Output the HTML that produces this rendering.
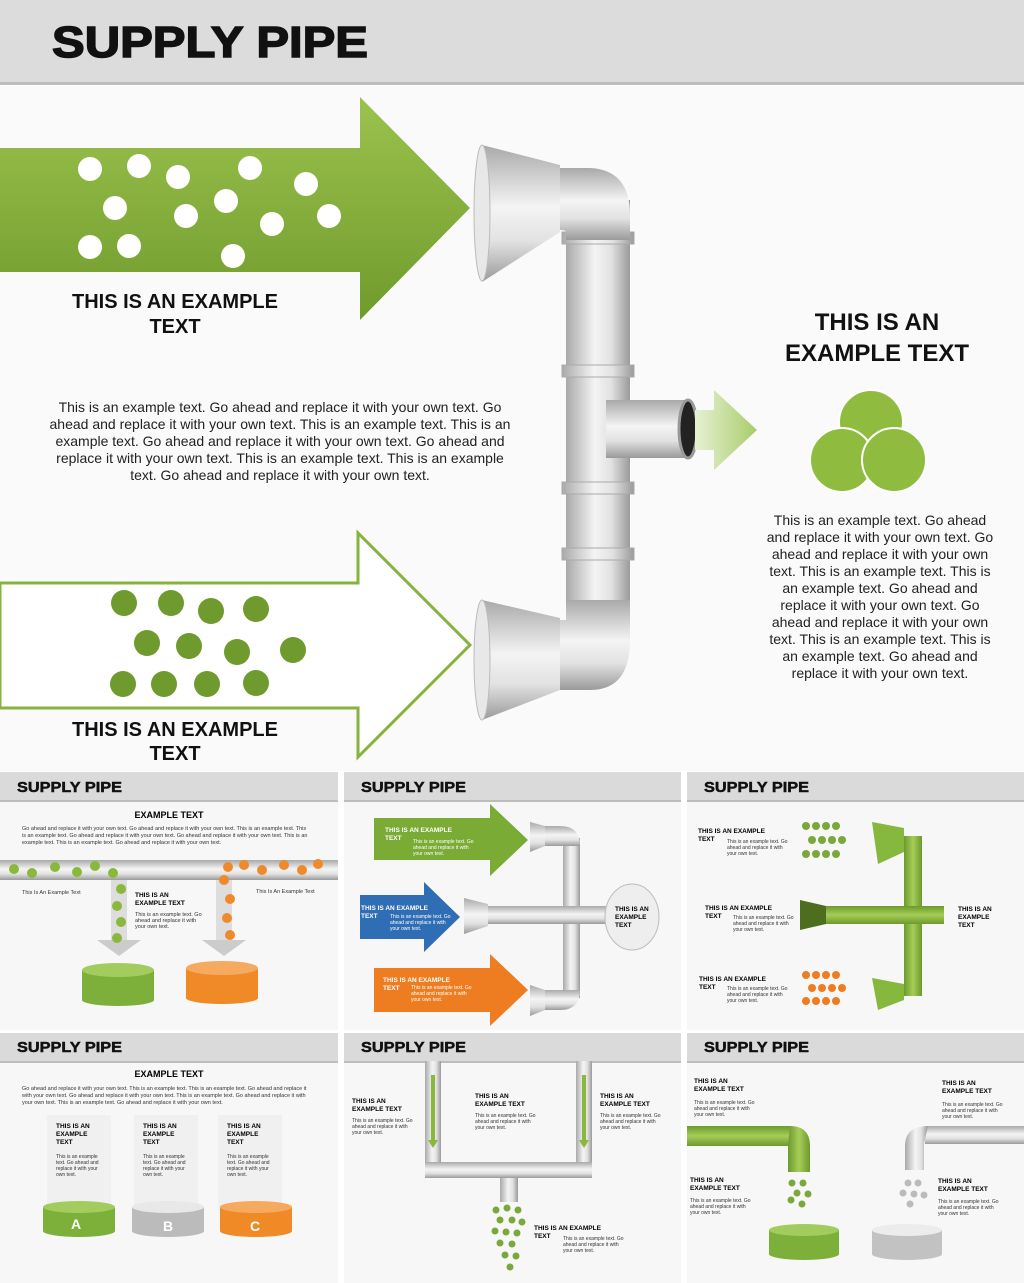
<!DOCTYPE html>
<html><head><meta charset="utf-8"><style>
html,body{margin:0;padding:0;background:#fff}
svg{display:block}
text{font-family:"Liberation Sans",Arial,sans-serif}
.b{font-weight:bold}
</style></head><body>
<svg width="1024" height="1283" viewBox="0 0 1024 1283" xmlns="http://www.w3.org/2000/svg">
<defs>
<linearGradient id="pv" x1="0" x2="1" y1="0" y2="0"><stop offset="0" stop-color="#a9a9a9"/><stop offset=".45" stop-color="#f4f4f4"/><stop offset=".7" stop-color="#e2e2e2"/><stop offset="1" stop-color="#9a9a9a"/></linearGradient>
<linearGradient id="ph" x1="0" x2="0" y1="0" y2="1"><stop offset="0" stop-color="#a9a9a9"/><stop offset=".45" stop-color="#f4f4f4"/><stop offset=".7" stop-color="#e2e2e2"/><stop offset="1" stop-color="#9a9a9a"/></linearGradient>
<linearGradient id="ga" x1="0" x2="0" y1="0" y2="1"><stop offset="0" stop-color="#9cc24e"/><stop offset="1" stop-color="#6f9b2c"/></linearGradient>
<linearGradient id="lg" x1="0" x2="1"><stop offset="0" stop-color="#e6f1d3"/><stop offset="1" stop-color="#a9cc6a"/></linearGradient>
<linearGradient id="gp" x1="0" x2="1"><stop offset="0" stop-color="#6c9a2c"/><stop offset=".5" stop-color="#a6cd58"/><stop offset="1" stop-color="#6c9a2c"/></linearGradient>
<linearGradient id="gph" x1="0" x2="0" y1="0" y2="1"><stop offset="0" stop-color="#6c9a2c"/><stop offset=".5" stop-color="#a6cd58"/><stop offset="1" stop-color="#6c9a2c"/></linearGradient>
</defs>
<!-- header -->
<rect x="0" y="0" width="1024" height="85" fill="#dcdcdc"/>
<rect x="0" y="82" width="1024" height="3" fill="#bdbdbd"/>
<text x="52" y="57" class="b" font-size="44" fill="#111" textLength="316" lengthAdjust="spacingAndGlyphs" stroke="#111" stroke-width="1.5">SUPPLY PIPE</text>
<rect x="0" y="86" width="1024" height="685" fill="#fafafa"/>
<!-- top green arrow -->
<polygon points="0,148 360,148 360,97 470,208 360,320 360,272 0,272" fill="url(#ga)"/>
<g fill="#fff">
<circle cx="90" cy="169" r="12"/><circle cx="139" cy="166" r="12"/><circle cx="178" cy="177" r="12"/><circle cx="250" cy="168" r="12"/><circle cx="306" cy="184" r="12"/>
<circle cx="115" cy="208" r="12"/><circle cx="186" cy="216" r="12"/><circle cx="226" cy="201" r="12"/><circle cx="272" cy="224" r="12"/><circle cx="329" cy="216" r="12"/>
<circle cx="90" cy="247" r="12"/><circle cx="129" cy="246" r="12"/><circle cx="233" cy="256" r="12"/></g>
<text x="175" y="308" text-anchor="middle" class="b" font-size="20" fill="#111">THIS IS AN EXAMPLE</text>
<text x="175" y="333" text-anchor="middle" class="b" font-size="20" fill="#111">TEXT</text>
<g font-size="14" fill="#222" text-anchor="middle">
<text x="280" y="412">This is an example text. Go ahead and replace it with your own text. Go</text>
<text x="280" y="429">ahead and replace it with your own text. This is an example text. This is an</text>
<text x="280" y="446">example text. Go ahead and replace it with your own text. Go ahead and</text>
<text x="280" y="463">replace it with your own text. This is an example text. This is an example</text>
<text x="280" y="480">text. Go ahead and replace it with your own text.</text></g>
<!-- bottom outline arrow -->
<polygon points="0,583 358,583 358,533 470,645 358,757 358,708 0,708" fill="#fff" stroke="#86b33e" stroke-width="3"/>
<g fill="#6f9a2e">
<circle cx="124" cy="603" r="13"/><circle cx="171" cy="603" r="13"/><circle cx="211" cy="611" r="13"/><circle cx="256" cy="609" r="13"/>
<circle cx="147" cy="643" r="13"/><circle cx="189" cy="646" r="13"/><circle cx="237" cy="652" r="13"/><circle cx="293" cy="650" r="13"/>
<circle cx="123" cy="684" r="13"/><circle cx="164" cy="684" r="13"/><circle cx="207" cy="684" r="13"/><circle cx="256" cy="683" r="13"/></g>
<text x="175" y="736" text-anchor="middle" class="b" font-size="20" fill="#111">THIS IS AN EXAMPLE</text>
<text x="175" y="760" text-anchor="middle" class="b" font-size="20" fill="#111">TEXT</text>
<!-- pipe -->
<rect x="566" y="200" width="64" height="440" fill="url(#pv)"/>
<g fill="url(#pv)" stroke="#aaa">
<rect x="562" y="232" width="72" height="12"/><rect x="562" y="365" width="72" height="12"/><rect x="562" y="482" width="72" height="12"/><rect x="562" y="548" width="72" height="12"/></g>
<path d="M560,168 L590,168 Q630,170 630,215 L630,240 L566,240 L566,232 Q566,230 560,230 Z" fill="url(#ph)"/>
<path d="M560,620 L566,620 L566,600 L630,600 L630,640 Q630,690 590,690 L560,690 Z" fill="url(#ph)"/>
<polygon points="482,145 560,165 560,232 482,282" fill="url(#ph)"/>
<ellipse cx="482" cy="213" rx="8" ry="68" fill="#e8e8e8" stroke="#bbb"/>
<polygon points="482,600 560,618 560,690 482,720" fill="url(#ph)"/>
<ellipse cx="482" cy="660" rx="8" ry="60" fill="#e8e8e8" stroke="#bbb"/>
<rect x="606" y="400" width="84" height="58" fill="url(#ph)"/>
<ellipse cx="688" cy="429" rx="9" ry="29" fill="#222" stroke="#999" stroke-width="3"/>
<polygon points="695,410 714,410 714,390 757,430 714,470 714,450 695,450" fill="url(#lg)"/>
<!-- right side -->
<text x="877" y="330" text-anchor="middle" class="b" font-size="24" fill="#111">THIS IS AN</text>
<text x="877" y="361" text-anchor="middle" class="b" font-size="24" fill="#111">EXAMPLE TEXT</text>
<g fill="#8fbc3f" stroke="#fff" stroke-width="2">
<circle cx="871" cy="422" r="32"/><circle cx="842" cy="460" r="32"/><circle cx="894" cy="460" r="32"/></g>
<g font-size="14" fill="#222" text-anchor="middle">
<text x="880" y="525">This is an example text. Go ahead</text>
<text x="880" y="542">and replace it with your own text. Go</text>
<text x="880" y="559">ahead and replace it with your own</text>
<text x="880" y="576">text. This is an example text. This is</text>
<text x="880" y="593">an example text. Go ahead and</text>
<text x="880" y="610">replace it with your own text. Go</text>
<text x="880" y="627">ahead and replace it with your own</text>
<text x="880" y="644">text. This is an example text. This is</text>
<text x="880" y="661">an example text. Go ahead and</text>
<text x="880" y="678">replace it with your own text.</text></g>

<!-- thumbnails -->
<g>
<rect x="0" y="772" width="338" height="258" fill="#f7f7f7"/><rect x="344" y="772" width="337" height="258" fill="#f7f7f7"/><rect x="687" y="772" width="337" height="258" fill="#f7f7f7"/>
<rect x="0" y="1033" width="338" height="250" fill="#f7f7f7"/><rect x="344" y="1033" width="337" height="250" fill="#f7f7f7"/><rect x="687" y="1033" width="337" height="250" fill="#f7f7f7"/>
<g fill="#dadada"><rect x="0" y="772" width="338" height="28"/><rect x="344" y="772" width="337" height="28"/><rect x="687" y="772" width="337" height="28"/>
<rect x="0" y="1033" width="338" height="28"/><rect x="344" y="1033" width="337" height="28"/><rect x="687" y="1033" width="337" height="28"/></g>
<g fill="#bdbdbd"><rect x="0" y="800" width="338" height="2"/><rect x="344" y="800" width="337" height="2"/><rect x="687" y="800" width="337" height="2"/>
<rect x="0" y="1061" width="338" height="2"/><rect x="344" y="1061" width="337" height="2"/><rect x="687" y="1061" width="337" height="2"/></g>
<g class="b" font-size="15" fill="#111" stroke="#111" stroke-width=".5">
<text x="17" y="792" textLength="105" lengthAdjust="spacingAndGlyphs">SUPPLY PIPE</text><text x="361" y="792" textLength="105" lengthAdjust="spacingAndGlyphs">SUPPLY PIPE</text><text x="704" y="792" textLength="105" lengthAdjust="spacingAndGlyphs">SUPPLY PIPE</text>
<text x="17" y="1052" textLength="105" lengthAdjust="spacingAndGlyphs">SUPPLY PIPE</text><text x="361" y="1052" textLength="105" lengthAdjust="spacingAndGlyphs">SUPPLY PIPE</text><text x="704" y="1052" textLength="105" lengthAdjust="spacingAndGlyphs">SUPPLY PIPE</text></g>
</g>
<!-- thumb 1 -->
<text x="169" y="818" text-anchor="middle" class="b" font-size="9">EXAMPLE TEXT</text>
<g font-size="5.5" fill="#333"><text x="22" y="830">Go ahead and replace it with your own text. Go ahead and replace it with your own text. This is an example text. This</text><text x="22" y="837">is an example text. Go ahead and replace it with your own text. Go ahead and replace it with your own text. This is an</text><text x="22" y="844">example text. This is an example text. Go ahead and replace it with your own text.</text></g>
<rect x="0" y="860" width="338" height="20" fill="url(#ph)"/>
<rect x="111" y="880" width="16" height="60" fill="#ddd"/><polygon points="97,940 141,940 119,956" fill="#ccc"/>
<rect x="216" y="880" width="16" height="60" fill="#ddd"/><polygon points="202,940 246,940 224,956" fill="#ccc"/>
<g fill="#8ab83c"><circle cx="14" cy="869" r="5"/><circle cx="32" cy="873" r="5"/><circle cx="55" cy="867" r="5"/><circle cx="77" cy="872" r="5"/><circle cx="95" cy="866" r="5"/><circle cx="113" cy="873" r="5"/><circle cx="121" cy="889" r="5"/><circle cx="117" cy="906" r="5"/><circle cx="121" cy="922" r="5"/><circle cx="117" cy="938" r="5"/></g>
<g fill="#ee8a2c"><circle cx="228" cy="867" r="5"/><circle cx="244" cy="865" r="5"/><circle cx="262" cy="870" r="5"/><circle cx="284" cy="865" r="5"/><circle cx="302" cy="870" r="5"/><circle cx="318" cy="864" r="5"/><circle cx="224" cy="880" r="5"/><circle cx="230" cy="899" r="5"/><circle cx="227" cy="918" r="5"/><circle cx="230" cy="935" r="5"/></g>
<g font-size="5.5" fill="#333"><text x="22" y="894">This Is An Example Text</text><text x="256" y="893">This Is An Example Text</text><text x="135" y="916">This is an example text. Go</text><text x="135" y="922">ahead and replace it with</text><text x="135" y="928">your own text.</text></g>
<g class="b" font-size="6.5"><text x="135" y="897">THIS IS AN</text><text x="135" y="905">EXAMPLE TEXT</text></g>
<rect x="82" y="970" width="72" height="30" fill="#7cb03a"/><ellipse cx="118" cy="1000" rx="36" ry="6" fill="#7cb03a"/><ellipse cx="118" cy="970" rx="36" ry="7" fill="#a3cc5e"/>
<rect x="186" y="968" width="72" height="30" fill="#ef8a26"/><ellipse cx="222" cy="998" rx="36" ry="6" fill="#ef8a26"/><ellipse cx="222" cy="968" rx="36" ry="7" fill="#f6aa60"/>
<!-- thumb 2 -->
<polygon points="374,818 490,818 490,804 528,840 490,876 490,860 374,860" fill="#7aab35"/>
<polygon points="360,895 424,895 424,882 460,917 424,952 424,939 360,939" fill="#2f6db5"/>
<polygon points="374,968 490,968 490,954 528,990 490,1026 490,1012 374,1012" fill="#ee7d22"/>
<g class="b" font-size="6.5" fill="#fff"><text x="385" y="832">THIS IS AN EXAMPLE</text><text x="385" y="840">TEXT</text><text x="361" y="910">THIS IS AN EXAMPLE</text><text x="361" y="918">TEXT</text><text x="383" y="982">THIS IS AN EXAMPLE</text><text x="383" y="990">TEXT</text></g>
<g font-size="5" fill="#fff"><text x="413" y="843">This is an example text. Go</text><text x="413" y="849">ahead and replace it with</text><text x="413" y="855">your own text.</text><text x="390" y="918">This is an example text. Go</text><text x="390" y="924">ahead and replace it with</text><text x="390" y="930">your own text.</text><text x="411" y="989">This is an example text. Go</text><text x="411" y="995">ahead and replace it with</text><text x="411" y="1001">your own text.</text></g>
<rect x="563" y="838" width="17" height="160" fill="url(#pv)"/><path d="M540,826 L560,826 Q580,826 580,846 L563,846 L545,846Z" fill="url(#ph)"/><path d="M545,990 L563,990 L580,990 Q580,1010 560,1010 L540,1010Z" fill="url(#ph)"/>
<polygon points="530,822 545,826 545,846 530,852" fill="url(#ph)"/><polygon points="530,985 545,990 545,1010 530,1016" fill="url(#ph)"/>
<rect x="488" y="906" width="118" height="18" fill="url(#ph)"/><polygon points="464,898 488,904 488,926 464,934" fill="url(#ph)"/>
<ellipse cx="632" cy="917" rx="27" ry="33" fill="#eee" stroke="#bbb"/>
<g class="b" font-size="6.5"><text x="615" y="911">THIS IS AN</text><text x="615" y="919">EXAMPLE</text><text x="615" y="927">TEXT</text></g>
<!-- thumb 3 -->
<rect x="904" y="836" width="18" height="160" fill="url(#gp)"/><rect x="802" y="906" width="142" height="18" fill="url(#gph)"/>
<polygon points="872,822 904,828 904,852 878,864" fill="#86b83e"/><polygon points="872,978 904,984 904,1000 878,1010" fill="#86b83e"/>
<polygon points="800,900 826,906 826,924 800,930" fill="#4d6e1f"/>
<g fill="#7aa83a"><circle cx="806" cy="826" r="4"/><circle cx="816" cy="826" r="4"/><circle cx="826" cy="826" r="4"/><circle cx="836" cy="826" r="4"/><circle cx="812" cy="840" r="4"/><circle cx="822" cy="840" r="4"/><circle cx="832" cy="840" r="4"/><circle cx="842" cy="840" r="4"/><circle cx="806" cy="854" r="4"/><circle cx="816" cy="854" r="4"/><circle cx="826" cy="854" r="4"/><circle cx="836" cy="854" r="4"/></g>
<g fill="#ee7d22"><circle cx="806" cy="975" r="4"/><circle cx="816" cy="975" r="4"/><circle cx="826" cy="975" r="4"/><circle cx="836" cy="975" r="4"/><circle cx="812" cy="988" r="4"/><circle cx="822" cy="988" r="4"/><circle cx="832" cy="988" r="4"/><circle cx="842" cy="988" r="4"/><circle cx="806" cy="1001" r="4"/><circle cx="816" cy="1001" r="4"/><circle cx="826" cy="1001" r="4"/><circle cx="836" cy="1001" r="4"/></g>
<g class="b" font-size="6.5"><text x="698" y="833">THIS IS AN EXAMPLE</text><text x="698" y="841">TEXT</text><text x="705" y="910">THIS IS AN EXAMPLE</text><text x="705" y="918">TEXT</text><text x="699" y="981">THIS IS AN EXAMPLE</text><text x="699" y="989">TEXT</text><text x="958" y="911">THIS IS AN</text><text x="958" y="919">EXAMPLE</text><text x="958" y="927">TEXT</text></g>
<g font-size="5" fill="#333"><text x="727" y="843">This is an example text. Go</text><text x="727" y="849">ahead and replace it with</text><text x="727" y="855">your own text.</text><text x="733" y="919">This is an example text. Go</text><text x="733" y="925">ahead and replace it with</text><text x="733" y="931">your own text.</text><text x="727" y="990">This is an example text. Go</text><text x="727" y="996">ahead and replace it with</text><text x="727" y="1002">your own text.</text></g>
<!-- thumb 4 -->
<text x="169" y="1077" text-anchor="middle" class="b" font-size="9">EXAMPLE TEXT</text>
<g font-size="5.5" fill="#333"><text x="22" y="1090">Go ahead and replace it with your own text. This is an example text. This is an example text. Go ahead and replace it</text><text x="22" y="1097">with your own text. Go ahead and replace it with your own text. This is an example text. Go ahead and replace it with</text><text x="22" y="1104">your own text. This is an example text. Go ahead and replace it with your own text.</text></g>
<rect x="47" y="1115" width="64" height="95" fill="#f0f0f0"/><rect x="134" y="1115" width="64" height="95" fill="#f0f0f0"/><rect x="218" y="1115" width="64" height="95" fill="#f0f0f0"/>
<g class="b" font-size="6.5"><text x="56" y="1128">THIS IS AN</text><text x="56" y="1136">EXAMPLE</text><text x="56" y="1144">TEXT</text><text x="143" y="1128">THIS IS AN</text><text x="143" y="1136">EXAMPLE</text><text x="143" y="1144">TEXT</text><text x="227" y="1128">THIS IS AN</text><text x="227" y="1136">EXAMPLE</text><text x="227" y="1144">TEXT</text></g>
<g font-size="5" fill="#333"><text x="56" y="1158">This is an example</text><text x="56" y="1164">text. Go ahead and</text><text x="56" y="1170">replace it with your</text><text x="56" y="1176">own text.</text><text x="143" y="1158">This is an example</text><text x="143" y="1164">text. Go ahead and</text><text x="143" y="1170">replace it with your</text><text x="143" y="1176">own text.</text><text x="227" y="1158">This is an example</text><text x="227" y="1164">text. Go ahead and</text><text x="227" y="1170">replace it with your</text><text x="227" y="1176">own text.</text></g>
<rect x="43" y="1207" width="72" height="24" fill="#7cb03a"/><ellipse cx="79" cy="1231" rx="36" ry="6" fill="#7cb03a"/><ellipse cx="79" cy="1207" rx="36" ry="6" fill="#a3cc5e"/>
<rect x="132" y="1207" width="72" height="24" fill="#bbb"/><ellipse cx="168" cy="1231" rx="36" ry="6" fill="#bbb"/><ellipse cx="168" cy="1207" rx="36" ry="6" fill="#e8e8e8"/>
<rect x="220" y="1207" width="72" height="24" fill="#ef8a26"/><ellipse cx="256" cy="1231" rx="36" ry="6" fill="#ef8a26"/><ellipse cx="256" cy="1207" rx="36" ry="6" fill="#f6aa60"/>
<g class="b" font-size="14" fill="#fff" text-anchor="middle"><text x="76" y="1229">A</text><text x="168" y="1231">B</text><text x="255" y="1231">C</text></g>
<!-- thumb 5 -->
<rect x="425" y="1061" width="16" height="110" fill="url(#pv)"/><rect x="576" y="1061" width="16" height="110" fill="url(#pv)"/>
<rect x="431" y="1075" width="4" height="65" fill="#8ab83c"/><polygon points="428,1140 438,1140 433,1148" fill="#8ab83c"/>
<rect x="582" y="1075" width="4" height="65" fill="#8ab83c"/><polygon points="579,1140 589,1140 584,1148" fill="#8ab83c"/>
<rect x="425" y="1162" width="167" height="16" fill="url(#ph)"/><rect x="500" y="1178" width="18" height="24" fill="url(#pv)"/>
<g fill="#7aa83a"><circle cx="496" cy="1210" r="3.5"/><circle cx="507" cy="1208" r="3.5"/><circle cx="518" cy="1210" r="3.5"/><circle cx="500" cy="1220" r="3.5"/><circle cx="512" cy="1220" r="3.5"/><circle cx="522" cy="1222" r="3.5"/><circle cx="495" cy="1231" r="3.5"/><circle cx="506" cy="1232" r="3.5"/><circle cx="517" cy="1233" r="3.5"/><circle cx="500" cy="1243" r="3.5"/><circle cx="512" cy="1244" r="3.5"/><circle cx="505" cy="1255" r="3.5"/><circle cx="516" cy="1256" r="3.5"/><circle cx="510" cy="1267" r="3.5"/></g>
<g class="b" font-size="6.5"><text x="352" y="1103">THIS IS AN</text><text x="352" y="1111">EXAMPLE TEXT</text><text x="475" y="1098">THIS IS AN</text><text x="475" y="1106">EXAMPLE TEXT</text><text x="600" y="1098">THIS IS AN</text><text x="600" y="1106">EXAMPLE TEXT</text><text x="534" y="1230">THIS IS AN EXAMPLE</text><text x="534" y="1238">TEXT</text></g>
<g font-size="5" fill="#333"><text x="352" y="1122">This is an example text. Go</text><text x="352" y="1128">ahead and replace it with</text><text x="352" y="1134">your own text.</text><text x="475" y="1117">This is an example text. Go</text><text x="475" y="1123">ahead and replace it with</text><text x="475" y="1129">your own text.</text><text x="600" y="1117">This is an example text. Go</text><text x="600" y="1123">ahead and replace it with</text><text x="600" y="1129">your own text.</text><text x="563" y="1240">This is an example text. Go</text><text x="563" y="1246">ahead and replace it with</text><text x="563" y="1252">your own text.</text></g>
<!-- thumb 6 -->
<rect x="687" y="1126" width="105" height="20" fill="url(#gph)"/><path d="M790,1126 Q810,1126 810,1146 L810,1172 L788,1172 L788,1146Z" fill="url(#gp)"/>
<rect x="925" y="1126" width="99" height="18" fill="url(#ph)"/><path d="M928,1126 Q905,1126 905,1146 L905,1170 L924,1170 L924,1144Z" fill="url(#pv)"/>
<g fill="#7aa83a"><circle cx="792" cy="1183" r="3.5"/><circle cx="803" cy="1183" r="3.5"/><circle cx="797" cy="1193" r="3.5"/><circle cx="808" cy="1194" r="3.5"/><circle cx="791" cy="1200" r="3.5"/><circle cx="802" cy="1204" r="3.5"/></g>
<g fill="#bbb"><circle cx="908" cy="1183" r="3.5"/><circle cx="918" cy="1183" r="3.5"/><circle cx="903" cy="1193" r="3.5"/><circle cx="914" cy="1194" r="3.5"/><circle cx="924" cy="1195" r="3.5"/><circle cx="910" cy="1204" r="3.5"/></g>
<rect x="769" y="1230" width="70" height="24" fill="#7cb03a"/><ellipse cx="804" cy="1254" rx="35" ry="6" fill="#7cb03a"/><ellipse cx="804" cy="1230" rx="35" ry="6" fill="#a3cc5e"/>
<rect x="872" y="1230" width="70" height="24" fill="#c2c2c2"/><ellipse cx="907" cy="1254" rx="35" ry="6" fill="#c2c2c2"/><ellipse cx="907" cy="1230" rx="35" ry="6" fill="#ececec"/>
<g class="b" font-size="6.5"><text x="694" y="1083">THIS IS AN</text><text x="694" y="1091">EXAMPLE TEXT</text><text x="942" y="1085">THIS IS AN</text><text x="942" y="1093">EXAMPLE TEXT</text><text x="690" y="1182">THIS IS AN</text><text x="690" y="1190">EXAMPLE TEXT</text><text x="938" y="1183">THIS IS AN</text><text x="938" y="1191">EXAMPLE TEXT</text></g>
<g font-size="5" fill="#333"><text x="694" y="1104">This is an example text. Go</text><text x="694" y="1110">ahead and replace it with</text><text x="694" y="1116">your own text.</text><text x="942" y="1106">This is an example text. Go</text><text x="942" y="1112">ahead and replace it with</text><text x="942" y="1118">your own text.</text><text x="690" y="1202">This is an example text. Go</text><text x="690" y="1208">ahead and replace it with</text><text x="690" y="1214">your own text.</text><text x="938" y="1203">This is an example text. Go</text><text x="938" y="1209">ahead and replace it with</text><text x="938" y="1215">your own text.</text></g>
</svg>
</body></html>
